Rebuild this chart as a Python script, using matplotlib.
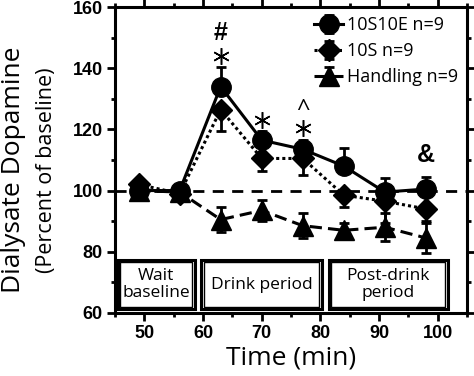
import matplotlib
matplotlib.use("Agg")
import matplotlib.pyplot as plt
from matplotlib.patches import Rectangle

# sample times (min)
time = [49, 56, 63, 70, 77, 84, 91, 98]

# 10S10E
e_mean = [100, 100, 134, 116.5, 113.5, 108, 99.5, 100.5]
e_err = [1.5, 1.5, 6.5, 3, 3, 6, 4.5, 4]
# 10S
s_mean = [102, 99, 126.5, 110.5, 110.5, 98.5, 96.5, 94]
s_err = [1.5, 1.5, 7, 4, 5.5, 4, 7, 4]
# handling
h_mean = [100, 99.5, 90.5, 93.5, 88.5, 87, 88, 84.5]
h_err = [1.5, 1.5, 4, 3.5, 4, 2.5, 4.5, 5]

labels = ["10S10E n=9", "10S n=9", "Handling n=9"]
periods = ["Wait\nbaseline", "Drink period", "Post-drink\nperiod"]
period_x = [(45.4, 58.6), (59.7, 80.3), (81.4, 101.7)]

sans = ["Open Sans", "DejaVu Sans"]
bold = ["Liberation Sans", "DejaVu Sans"]

fig = plt.figure(figsize=(4.74, 3.76), dpi=100)
ax = fig.add_axes([0.243, 0.168, 0.742, 0.813])

ax.axhline(100, color="black", lw=2, ls=(0, (4, 3)), zorder=1)

zero = [0] * len(time)
ax.errorbar(time, h_mean, yerr=h_err, color="black", lw=2.2, ls=(0, (4, 2)),
            marker="^", ms=14, capsize=3.5, elinewidth=2, capthick=2,
            label=labels[2], zorder=3)
ax.errorbar(time, s_mean, yerr=[s_err, zero], color="black", lw=2.2, ls=(0, (1, 1)),
            marker="D", ms=11, capsize=3.5, elinewidth=2, capthick=2,
            label=labels[1], zorder=4)
ax.errorbar(time, e_mean, yerr=[zero, e_err], color="black", lw=2.2, ls="-",
            marker="o", ms=14, capsize=3.5, elinewidth=2, capthick=2,
            label=labels[0], zorder=5)

# significance marks
star_x = [63, 70, 77]
star_y = [144, 123, 120.5]
ax.plot(star_x, star_y, ls="none", marker=(6, 2, 0), ms=12, mew=1.1,
        color="black", zorder=6)
ax.text(63, 151.5, "#", ha="center", va="center", fontsize=18,
        fontweight="bold", family=bold)
ax.text(77, 126.5, "^", ha="center", va="center", fontsize=17, family=sans)
ax.text(98, 111.5, "&", ha="center", va="center", fontsize=18,
        fontweight="bold", family=bold)

# period boxes
for (x0, x1), name in zip(period_x, periods):
    ax.add_patch(Rectangle((x0, 61.2), x1 - x0, 16.1, fill=False,
                           lw=2.2, ec="black", zorder=2))
    ax.add_patch(Rectangle((x0 + 0.45, 61.9), x1 - x0 - 0.9, 14.7, fill=False,
                           lw=1, ec="black", zorder=2))
    ax.text((x0 + x1) / 2, 69.2, name, ha="center", va="center",
            fontsize=12.5, family=sans, linespacing=1.05)

ax.set_xlim(45, 105)
ax.set_ylim(60, 160)
ax.set_xticks(range(50, 101, 10))
ax.set_xticks(range(45, 106, 5), minor=True)
ax.set_yticks(range(60, 161, 20))
ax.set_yticks(range(70, 160, 10), minor=True)
ax.tick_params(which="both", direction="out", width=2, top=True, right=True,
               labeltop=False, labelright=False)
ax.tick_params(which="major", length=6, labelsize=13, pad=3)
ax.tick_params(which="minor", length=3)
for lab in ax.get_xticklabels() + ax.get_yticklabels():
    lab.set_family(bold)
    lab.set_fontweight("bold")
for sp in ax.spines.values():
    sp.set_linewidth(2.2)

ax.set_xlabel("Time (min)", fontsize=19, family=sans, labelpad=2)
fig.text(0.028, 0.548, "Dialysate Dopamine", rotation=90, ha="center",
         va="center", fontsize=19, family=sans)
fig.text(0.099, 0.548, "(Percent of baseline)", rotation=90, ha="center",
         va="center", fontsize=15.5, family=sans)

h, l = ax.get_legend_handles_labels()
ax.legend(h[::-1], l[::-1], loc="upper right", frameon=False,
          prop={"family": sans, "size": 13}, handlelength=1.6, handletextpad=0.2,
          labelspacing=0.45, borderaxespad=0.1, numpoints=1)

fig.savefig("out.png", dpi=100)
